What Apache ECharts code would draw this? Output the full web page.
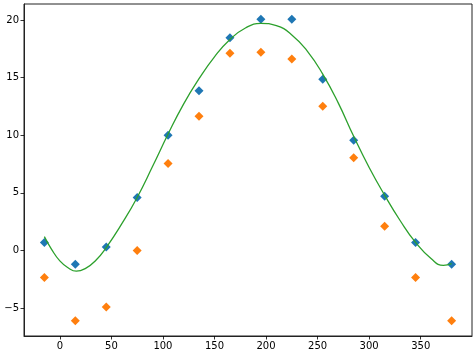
<!DOCTYPE html>
<html>
<head>
<meta charset="utf-8">
<script src="https://cdn.jsdelivr.net/npm/echarts@6/dist/echarts.min.js"></script>
<style>html,body{margin:0;padding:0;background:#fff}#c{width:474px;height:356px}</style>
</head>
<body>
<div id="c"></div>
<script>
const xs = [-15, 15, 45, 75, 105, 135, 165, 195, 225, 255, 285, 315, 345, 380];
const blueY = [0.7, -1.2, 0.3, 4.6, 10.0, 13.85, 18.45, 20.05, 20.05, 14.85, 9.55, 4.7, 0.7, -1.2];
const orangeY = [-2.35, -6.1, -4.9, 0.0, 7.55, 11.65, 17.1, 17.2, 16.6, 12.5, 8.05, 2.1, -2.35, -6.1];
const curveX = [-15, -8, 0, 8, 16, 25, 35, 45, 60, 75, 90, 105, 120, 135, 150, 165, 180, 195, 210, 225, 240, 255, 270, 285, 300, 315, 330, 345, 360, 372, 380];
const curveY = [1.2, 0.1, -0.9, -1.5, -1.8, -1.55, -0.85, 0.25, 2.3, 4.6, 7.3, 10.1, 12.7, 14.9, 16.8, 18.3, 19.3, 19.7, 19.5, 18.7, 17.3, 15.3, 12.8, 9.9, 7.2, 4.8, 2.6, 0.7, -0.7, -1.3, -1.15];
const xTicks = [0, 50, 100, 150, 200, 250, 300, 350];
const yTicks = [-5, 0, 5, 10, 15, 20];

const zip = (a, b) => a.map((v, i) => [v, b[i]]);
const fmt = v => String(v).replace('-', '\u2212');
const font = {fontFamily: 'DejaVu Sans', fontSize: 10, color: '#000'};

const chart = echarts.init(document.getElementById('c'), null, {renderer: 'canvas'});
chart.setOption({
  animation: false,
  grid: {left: 24, right: 2, top: 4, bottom: 20, show: true, borderColor: '#222', borderWidth: 1, backgroundColor: '#fff'},
  xAxis: {
    type: 'value', min: -34.75, max: 399.75,
    splitLine: {show: false},
    axisLine: {show: true, onZero: false, lineStyle: {color: '#222', width: 1}},
    axisTick: {show: true, length: 3.5, customValues: xTicks, lineStyle: {color: '#000', width: 0.8}},
    axisLabel: Object.assign({customValues: xTicks, margin: 5, formatter: fmt}, font)
  },
  yAxis: {
    type: 'value', min: -7.42, max: 21.38,
    splitLine: {show: false},
    axisLine: {show: true, onZero: false, lineStyle: {color: '#222', width: 1}},
    axisTick: {show: true, length: 3.5, customValues: yTicks, lineStyle: {color: '#000', width: 0.8}},
    axisLabel: Object.assign({customValues: yTicks, margin: 5, formatter: fmt}, font)
  },
  series: [
    {type: 'scatter', data: zip(xs, blueY), symbol: 'diamond', symbolSize: 9, itemStyle: {color: '#1f77b4', opacity: 1}, z: 2},
    {type: 'scatter', data: zip(xs, orangeY), symbol: 'diamond', symbolSize: 9, itemStyle: {color: '#ff7f0e', opacity: 1}, z: 2},
    {type: 'line', data: zip(curveX, curveY), smooth: 0.5, showSymbol: false, lineStyle: {color: '#2ca02c', width: 1.3}, z: 3}
  ]
});
</script>
</body>
</html>
